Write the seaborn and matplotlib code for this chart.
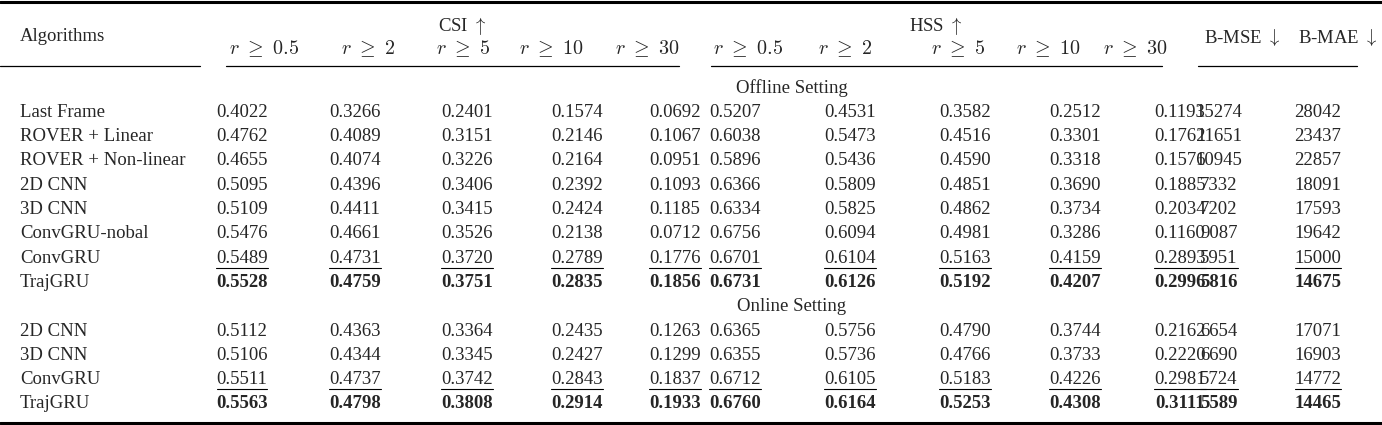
import matplotlib
matplotlib.use("Agg")
import matplotlib.pyplot as plt
import seaborn as sns

sns.set_theme(style="white")
plt.rcParams['font.family'] = ['Liberation Serif', 'DejaVu Serif']
plt.rcParams['mathtext.fontset'] = 'cm'

thresholds = ['0.5', '2', '5', '10', '30']
offline_names = ['Last Frame', 'ROVER + Linear', 'ROVER + Non-linear', '2D CNN', '3D CNN',
                 'ConvGRU-nobal', 'ConvGRU', 'TrajGRU']
offline_csi = [
    ['0.4022', '0.3266', '0.2401', '0.1574', '0.0692'],
    ['0.4762', '0.4089', '0.3151', '0.2146', '0.1067'],
    ['0.4655', '0.4074', '0.3226', '0.2164', '0.0951'],
    ['0.5095', '0.4396', '0.3406', '0.2392', '0.1093'],
    ['0.5109', '0.4411', '0.3415', '0.2424', '0.1185'],
    ['0.5476', '0.4661', '0.3526', '0.2138', '0.0712'],
    ['0.5489', '0.4731', '0.3720', '0.2789', '0.1776'],
    ['0.5528', '0.4759', '0.3751', '0.2835', '0.1856'],
]
offline_hss = [
    ['0.5207', '0.4531', '0.3582', '0.2512', '0.1193'],
    ['0.6038', '0.5473', '0.4516', '0.3301', '0.1762'],
    ['0.5896', '0.5436', '0.4590', '0.3318', '0.1576'],
    ['0.6366', '0.5809', '0.4851', '0.3690', '0.1885'],
    ['0.6334', '0.5825', '0.4862', '0.3734', '0.2034'],
    ['0.6756', '0.6094', '0.4981', '0.3286', '0.1160'],
    ['0.6701', '0.6104', '0.5163', '0.4159', '0.2893'],
    ['0.6731', '0.6126', '0.5192', '0.4207', '0.2996'],
]
offline_bmse = ['15274', '11651', '10945', '7332', '7202', '9087', '5951', '5816']
offline_bmae = ['28042', '23437', '22857', '18091', '17593', '19642', '15000', '14675']

online_names = ['2D CNN', '3D CNN', 'ConvGRU', 'TrajGRU']
online_csi = [
    ['0.5112', '0.4363', '0.3364', '0.2435', '0.1263'],
    ['0.5106', '0.4344', '0.3345', '0.2427', '0.1299'],
    ['0.5511', '0.4737', '0.3742', '0.2843', '0.1837'],
    ['0.5563', '0.4798', '0.3808', '0.2914', '0.1933'],
]
online_hss = [
    ['0.6365', '0.5756', '0.4790', '0.3744', '0.2162'],
    ['0.6355', '0.5736', '0.4766', '0.3733', '0.2220'],
    ['0.6712', '0.6105', '0.5183', '0.4226', '0.2981'],
    ['0.6760', '0.6164', '0.5253', '0.4308', '0.3111'],
]
online_bmse = ['6654', '6690', '5724', '5589']
online_bmae = ['17071', '16903', '14772', '14465']

# layout in pixels
W, H = 1382, 425
fs = 13.5
csi_head = [264, 368, 463, 551, 647]
hss_head = [748, 845, 958, 1048, 1135]
csi_x = [242, 355, 467, 577, 675]
hss_x = [735, 850, 965, 1075, 1180]
b_head = [1242, 1338]
b_x = [1219, 1318]
row_h = 24.3

fig = plt.figure(figsize=(W / 100, H / 100), dpi=100)
ax = fig.add_axes([0, 0, 1, 1])
ax.set_xlim(0, W)
ax.set_ylim(H, 0)
ax.axis('off')

underlines = []


def cell(x, y, s, style):
    t = ax.text(x, y, s, ha='center', va='center', fontsize=fs,
                fontweight='bold' if style == 'bold' else 'normal')
    if style == 'under':
        underlines.append((t, y))


# rules
ax.plot([0, W], [2, 2], color='black', lw=2.2)
ax.plot([0, W], [423, 423], color='black', lw=2.2)
for x0, x1 in [(0, 200), (226, 679), (711, 1162), (1198, 1357)]:
    ax.plot([x0, x1], [66, 66], color='black', lw=0.9)

# headers
ax.text(20, 36, 'Algorithms', ha='left', va='center', fontsize=fs)
ax.text(462, 26, 'CSI $\\uparrow$', ha='center', va='center', fontsize=fs)
ax.text(936, 26, 'HSS $\\uparrow$', ha='center', va='center', fontsize=fs)
ax.text(b_head[0], 37, 'B-MSE $\\downarrow$', ha='center', va='center', fontsize=fs)
ax.text(b_head[1], 37, 'B-MAE $\\downarrow$', ha='center', va='center', fontsize=fs)
for xs in (csi_head, hss_head):
    for x, th in zip(xs, thresholds):
        ax.text(x, 49, '$r\\ \\geq\\ ' + th + '$', ha='center', va='center', fontsize=fs + 1)


def block(y0, title, names, csi, hss, bmse, bmae):
    ax.text(792, y0, title, ha='center', va='center', fontsize=fs)
    n = len(names)
    for i, name in enumerate(names):
        y = y0 + row_h * (i + 1)
        style = 'bold' if i == n - 1 else ('under' if i == n - 2 else None)
        ax.text(20, y, name, ha='left', va='center', fontsize=fs)
        for x, v in zip(csi_x, csi[i]):
            cell(x, y, v, style)
        for x, v in zip(hss_x, hss[i]):
            cell(x, y, v, style)
        cell(b_x[0], y, bmse[i], style)
        cell(b_x[1], y, bmae[i], style)


block(88, 'Offline Setting', offline_names, offline_csi, offline_hss, offline_bmse, offline_bmae)
block(88 + row_h * 9, 'Online Setting', online_names, online_csi, online_hss, online_bmse, online_bmae)

fig.canvas.draw()
renderer = fig.canvas.get_renderer()
inv = ax.transData.inverted()
for t, y in underlines:
    bb = t.get_window_extent(renderer)
    (xa, _), (xb, _) = inv.transform([(bb.x0, bb.y0), (bb.x1, bb.y1)])
    ax.plot([xa, xb], [y + 9.5, y + 9.5], color='black', lw=0.8)

fig.savefig('out.png', dpi=100)
